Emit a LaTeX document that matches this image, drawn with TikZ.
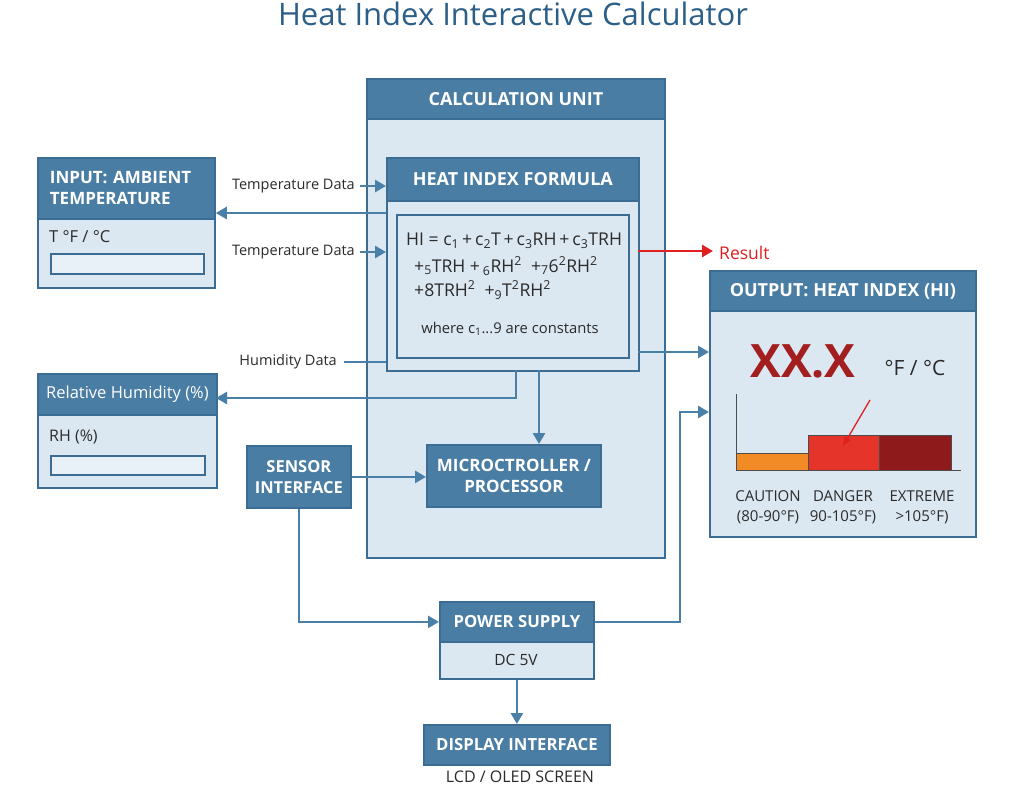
\documentclass[tikz,border=0pt]{standalone}
\usepackage{fontspec}
\setmainfont{Open Sans}
\usetikzlibrary{arrows.meta,calc}
\definecolor{headc}{HTML}{4A7DA3}
\definecolor{bordc}{HTML}{3B6D94}
\definecolor{bodyc}{HTML}{DBE7F1}
\definecolor{fieldc}{HTML}{E9F1F8}
\definecolor{linec}{HTML}{4A7FA8}
\definecolor{titlec}{HTML}{2C5F88}
\definecolor{txtc}{HTML}{2B2B2B}
\definecolor{resred}{HTML}{E02020}
\definecolor{xxred}{HTML}{A31F1F}
\definecolor{barorange}{HTML}{F28A25}
\definecolor{barred}{HTML}{E5352B}
\definecolor{bardark}{HTML}{8F1A1C}
\tikzset{
  panel/.style={draw=bordc, fill=bodyc, line width=1.8pt, anchor=north west, inner sep=0pt},
  head/.style={draw=bordc, fill=headc, text=white, line width=1.8pt, anchor=north west, inner sep=0pt, font=\fontsize{18}{21}\selectfont\bfseries},
  solid/.style={draw=bordc, fill=headc, text=white, line width=1.8pt, anchor=north west, inner sep=0pt, align=center, font=\fontsize{17}{21}\selectfont\bfseries},
  field/.style={draw=bordc, fill=fieldc, line width=1.5pt},
  lbl/.style={text=txtc, font=\fontsize{14.5}{17}\selectfont, inner sep=1pt},
  conn/.style={draw=linec, line width=2.6pt, -{Triangle[length=11pt,width=12pt]}},
  plain/.style={draw=linec, line width=2.6pt},
  redarrow/.style={draw=resred, line width=2.6pt, -{Triangle[length=11pt,width=12pt]}},
}
\begin{document}
\begin{tikzpicture}[x=1pt,y=-1pt]
\useasboundingbox (0,0) rectangle (1024,787);
\fill[white] (0,0) rectangle (1024,787);

% title
\node[text=titlec, font=\fontsize{31}{35}\selectfont] (title) at (513,14) {Heat Index Interactive Calculator};

% calculation unit
\node[panel, minimum width=298pt, minimum height=479pt] (calc) at (366,78) {};
\node[head, minimum width=298pt, minimum height=40pt] (calchead) at (366,78) {CALCULATION UNIT};

% heat index formula
\node[panel, minimum width=252pt, minimum height=213pt] (formula) at (386,157) {};
\node[head, minimum width=252pt, minimum height=43pt] (formhead) at (386,157) {HEAT INDEX FORMULA};
\node[draw=bordc, fill=bodyc, line width=1.5pt, anchor=north west, minimum width=232pt, minimum height=143pt, inner sep=0pt] (forminner) at (396,214) {};
\node[text=txtc, anchor=west, font=\fontsize{17.6}{20}\selectfont, inner sep=0pt] (fl1) at (406,241)
  {HI = c\textsubscript{1}\,+\,c\textsubscript{2}T\,+\,c\textsubscript{3}RH\,+\,c\textsubscript{3}TRH};
\node[text=txtc, anchor=west, font=\fontsize{17.6}{20}\selectfont, inner sep=0pt] (fl2) at (414,266)
  {+\textsubscript{5}TRH +\,\textsubscript{6}RH\textsuperscript{2} \ +\textsubscript{7}6\textsuperscript{2}RH\textsuperscript{2}};
\node[text=txtc, anchor=west, font=\fontsize{17.6}{20}\selectfont, inner sep=0pt] (fl3) at (414,290)
  {+8TRH\textsuperscript{2} \ +\textsubscript{9}T\textsuperscript{2}RH\textsuperscript{2}};
\node[text=txtc, font=\fontsize{14.8}{17}\selectfont, inner sep=0pt] (fwhere) at (510,329)
  {where c\textsubscript{1}...9 are constants};

% input ambient temperature
\node[panel, minimum width=177pt, minimum height=130pt] (inT) at (37,157) {};
\node[head, minimum width=177pt, minimum height=61pt, align=left, text width=165pt, font=\fontsize{17}{21}\selectfont\bfseries] (inThead) at (37,157)
  {\hspace*{6pt}INPUT: AMBIENT\\\hspace*{6pt}TEMPERATURE};
\node[lbl, anchor=west, font=\fontsize{16.5}{19}\selectfont] (inTlbl) at (48,237) {T °F / °C};
\node[field, anchor=north west, minimum width=153pt, minimum height=20pt, inner sep=0pt] (inTfield) at (50,253) {};

% relative humidity
\node[panel, minimum width=179pt, minimum height=114pt] (rh) at (37,373) {};
\node[head, minimum width=179pt, minimum height=41pt, font=\fontsize{16.5}{19}\selectfont] (rhhead) at (37,373) {Relative Humidity (\%)};
\node[lbl, anchor=west, font=\fontsize{16}{19}\selectfont] (rhlbl) at (48,437) {RH (\%)};
\node[field, anchor=north west, minimum width=154pt, minimum height=19pt, inner sep=0pt] (rhfield) at (50,455) {};

% sensor interface
\node[solid, minimum width=104pt, minimum height=62pt, font=\fontsize{16.5}{21}\selectfont\bfseries] (sensor) at (246,445) {SENSOR\\INTERFACE};
% microcontroller
\node[solid, minimum width=174pt, minimum height=62pt] (mcu) at (426,444) {MICROCTROLLER /\\PROCESSOR};

% power supply
\node[panel, minimum width=154pt, minimum height=77pt] (power) at (439,601) {};
\node[head, minimum width=154pt, minimum height=40pt, font=\fontsize{16.7}{20}\selectfont\bfseries] (phead) at (439,601) {POWER SUPPLY};
\node[lbl, font=\fontsize{15.5}{18}\selectfont] (pdc) at (516,660) {DC 5V};

% display interface
\node[solid, minimum width=186pt, minimum height=40pt, font=\fontsize{16.7}{20}\selectfont\bfseries] (display) at (423,724) {DISPLAY INTERFACE};
\node[lbl, font=\fontsize{16}{19}\selectfont] (lcd) at (520,777) {LCD / OLED SCREEN};

% output
\node[panel, minimum width=266pt, minimum height=266pt] (output) at (709,270) {};
\node[head, minimum width=266pt, minimum height=40pt] (ohead) at (709,270) {OUTPUT: HEAT INDEX (HI)};
\node[text=xxred, font=\fontsize{46}{50}\selectfont\bfseries, inner sep=0pt] (xx) at (803,361) {XX.X};
\node[lbl, font=\fontsize{21}{24}\selectfont] (unit) at (915,368) {°F / °C};

% bar chart
\fill[barorange] (736,453) rectangle (808,470);
\fill[barred] (808,435) rectangle (879,470);
\fill[bardark] (879,435) rectangle (951,470);
\draw[gray!60!black, line width=0.8pt] (736,453) rectangle (808,470);
\draw[gray!60!black, line width=0.8pt] (808,435) rectangle (879,470);
\draw[gray!60!black, line width=0.8pt] (879,435) rectangle (951,470);
\draw[gray!60!black, line width=1pt] (736,394) -- (736,470) -- (961,470);
\coordinate (rtail) at (870,400);
\coordinate (rhead) at (843,446);
\draw[resred, line width=1.3pt, -{Triangle[length=9pt,width=7pt]}] (rtail) -- (rhead);
\node[lbl, align=center, font=\fontsize{15}{20}\selectfont] (lcaut) at (768,507) {CAUTION\\(80-90°F)};
\node[lbl, align=center, font=\fontsize{15}{20}\selectfont] (ldang) at (843,507) {DANGER\\90-105°F)};
\node[lbl, align=center, font=\fontsize{15}{20}\selectfont] (lext) at (922,507) {EXTREME\\>105°F)};

% connector labels
\node[lbl, anchor=east] (tlab1) at (356,186) {Temperature Data};
\node[lbl, anchor=east] (tlab2) at (356,252) {Temperature Data};
\node[lbl, anchor=east] (hlab) at (338,362) {Humidity Data};

% connectors
\draw[conn] ([xshift=4pt]tlab1.east) -- (tlab1.east -| formula.west);
\coordinate (tback) at (386,213);
\draw[conn] (tback) -- (tback -| inT.east);
\draw[conn] ([xshift=4pt]tlab2.east) -- (tlab2.east -| formula.west);
\draw[plain] ([xshift=6pt]hlab.east) -- (hlab.east -| formula.west);
\coordinate (fbot1) at (516,370);
\coordinate (rhin) at (216,398);
\draw[conn] (fbot1) |- (rhin);
\coordinate (fbot2) at (539,370);
\draw[conn] (fbot2) -- (fbot2 |- mcu.north);
\draw[conn] (sensor.east) -- (sensor.east -| mcu.west);
\draw[conn] (sensor.south) |- (phead.west);
\coordinate (pbend) at (680,412);
\coordinate (oin2) at (709,412);
\draw[conn] (phead.east) -| (pbend) -- (oin2);
\draw[conn] (power.south) -- (display.north);
\coordinate (fout) at (638,352);
\draw[conn] (fout) -- (fout -| output.west);
\coordinate (rres) at (638,251);
\coordinate (rresend) at (713,251);
\draw[redarrow] (rres) -- (rresend);
\node[text=resred, anchor=west, font=\fontsize{17.5}{20}\selectfont, inner sep=0pt] (result) at (719,253) {Result};
\end{tikzpicture}
\end{document}
